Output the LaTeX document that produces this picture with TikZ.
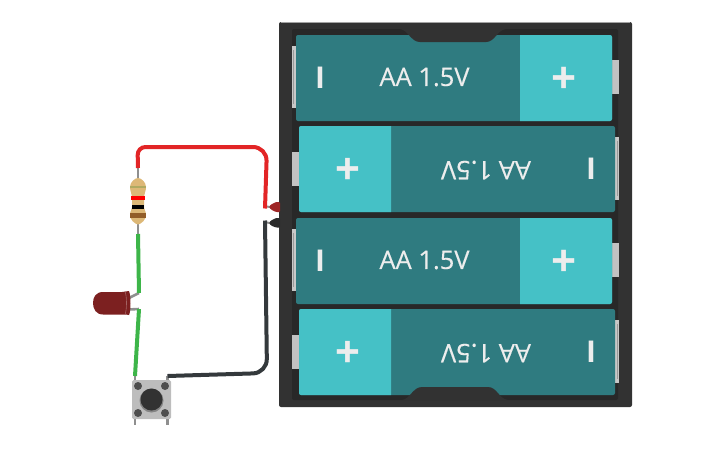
\documentclass[tikz,border=0pt]{standalone}
\usepackage{fontspec}
\setmainfont{Open Sans}
\newfontfamily\labelfont[FakeBold=0.3]{Open Sans}
\definecolor{holdergray}{HTML}{323232}
\definecolor{innergray}{HTML}{282828}
\definecolor{cellteal}{HTML}{2F7B80}
\definecolor{capteal}{HTML}{45C1C6}
\definecolor{marktext}{HTML}{EDEDED}
\definecolor{tabgray}{HTML}{C2C2C2}
\definecolor{leadgray}{HTML}{8F8F8F}
\definecolor{wirered}{HTML}{E22526}
\definecolor{wiregreen}{HTML}{3DB549}
\definecolor{wireblack}{HTML}{34393C}
\definecolor{resbody}{HTML}{DDB877}
\definecolor{ledred}{HTML}{7C2020}
\definecolor{swbody}{HTML}{BDBDBD}
\begin{document}
\begin{tikzpicture}
   [
    x=1pt, y=-1pt,
    cell/.style={rectangle, rounded corners=2pt, fill=cellteal,
                 minimum width=316pt, minimum height=86pt, inner sep=0pt},
    celltext/.style={rectangle, text=marktext, inner sep=0pt,
                 font=\labelfont\fontsize{25.5}{25.5}\selectfont},
    capmark/.style={rectangle, text=marktext, inner sep=0pt,
                    font=\fontsize{44}{44}\selectfont\bfseries},
    barmark/.style={rectangle, text=marktext, inner sep=0pt,
                    font=\fontsize{30}{30}\selectfont\bfseries},
    tab/.style={fill=tabgray},
    spring/.style={fill=tabgray!90!white},
    springline/.style={draw=gray!80!white, line width=1pt},
    wire/.style={line width=4pt},
    lead/.style={draw=leadgray, line width=2.6pt},
    pinhole/.style={circle, fill=holdergray!80!swbody, minimum size=8pt, inner sep=0pt}
    ]
\useasboundingbox (0,0) rectangle (725,453);

%holder
\node[rectangle, rounded corners=2pt, fill=holdergray, minimum width=353pt,
      minimum height=385pt, inner sep=0pt] (holder) at (455.5,214.5) {};
\draw[holdergray!45!white, line width=.7pt] (281,22.4) -- (630,22.4);
\fill[innergray, rounded corners=2pt] (292,29) rectangle (618,400);

% tabs and springs
\fill[spring] (292,46) rectangle (296,108);
\draw[springline] (293.5,50) -- (293.5,104);
\fill[tab] (612,60) rectangle (619,94);
\fill[tab] (292,152) rectangle (299,186);
\fill[spring] (615,137) rectangle (619,200);
\draw[springline] (617.5,141) -- (617.5,196);
\fill[spring] (292,229) rectangle (296,291);
\draw[springline] (293.5,233) -- (293.5,287);
\fill[tab] (612,243) rectangle (619,277);
\fill[tab] (292,335) rectangle (299,369);
\fill[spring] (615,320) rectangle (619,383);
\draw[springline] (617.5,324) -- (617.5,379);

%battery 1
\node[cell] (batt1) at (454,78) {};
\node[celltext] (label1) at (424.5,77) {AA 1.5V};
\fill[capteal] (520,35) [rounded corners=2pt] -- (612,35) -- (612,121) [sharp corners] -- (520,121) -- cycle;
\node[capmark] (plus1) at (564,80) {+};
\node[barmark] (minus1) at (320,78) {I};
%battery 2
\node[cell] (batt2) at (457,169) {};
\node[celltext, rotate=180] (label2) at (486,170) {AA 1.5V};
\fill[capteal] (391,126) [sharp corners] -- (391,212) [rounded corners=2pt] -- (299,212) -- (299,126) [sharp corners] -- cycle;
\node[capmark, rotate=180] (plus2) at (348,167) {+};
\node[barmark] (minus2) at (591,169) {I};
%battery 3
\node[cell] (batt3) at (454,261) {};
\node[celltext] (label3) at (424.5,260) {AA 1.5V};
\fill[capteal] (520,218) [rounded corners=2pt] -- (612,218) -- (612,304) [sharp corners] -- (520,304) -- cycle;
\node[capmark] (plus3) at (564,263) {+};
\node[barmark] (minus3) at (320,261) {I};
%battery 4
\node[cell] (batt4) at (457,352) {};
\node[celltext, rotate=180] (label4) at (486,353) {AA 1.5V};
\fill[capteal] (391,309) [sharp corners] -- (391,395) [rounded corners=2pt] -- (299,395) -- (299,309) [sharp corners] -- cycle;
\node[capmark, rotate=180] (plus4) at (348,350) {+};
\node[barmark] (minus4) at (591,352) {I};

% notches
\fill[holdergray] (400,29) .. controls (408,30) and (411,42) .. (420,42) -- (486,42)
                  .. controls (495,42) and (497,30) .. (506,29) -- cycle;
\fill[holdergray] (402,400) .. controls (410,399) and (413,387) .. (422,387) -- (488,387)
                  .. controls (497,387) and (499,399) .. (508,400) -- cycle;

% snap leads
\coordinate (battP) at (265,206.5);
\coordinate (battN) at (265,222.5);
\draw[lead, line width=2pt] (battP) -- (272,207);
\draw[lead, line width=2pt] (battN) -- (272,223);
\fill[red!55!black!85!white, rounded corners=1pt] (280,202) -- (276,202) -- (271,204.5) -- (269,207) -- (271,209.5) -- (276,212) -- (280,212) -- cycle;
\fill[holdergray!85!black, rounded corners=1pt] (280,218) -- (276,218) -- (271,220.5) -- (269,223) -- (271,225.5) -- (276,227.5) -- (280,227.5) -- cycle;

% resistor
\coordinate (resT) at (138,168);
\coordinate (resB) at (138,234);
\draw[lead] (resT) -- (resB);
\node[rectangle, minimum width=16pt, minimum height=46pt, inner sep=0pt] (res) at (138,201) {};
\fill[resbody] (138,178) .. controls (141,178) and (146,182) .. (146,187)
      .. controls (146,192) and (144,193) .. (144,197) -- (144,206)
      .. controls (144,210) and (146,211) .. (146,215)
      .. controls (146,220) and (141,224) .. (138,224.5)
      .. controls (135,224) and (130,220) .. (130,215)
      .. controls (130,211) and (132,210) .. (132,206) -- (132,197)
      .. controls (132,193) and (130,192) .. (130,187)
      .. controls (130,182) and (135,178) .. (138,178) -- cycle;
\fill[yellow!55!black!80] (130,186) rectangle (146,187.5);
\fill[red] (131,196) rectangle (145,200);
\fill[black] (132,204.5) rectangle (144,209);
\fill[brown!70!black!90!orange] (130,213) rectangle (146,217.5);

% led
\coordinate (ledA) at (139,293);
\coordinate (ledK) at (139,309);
\draw[lead] (ledA) -- (129,298);
\draw[lead] (ledK) -- (128,309.5);
\node[rectangle, minimum width=36pt, minimum height=24pt, inner sep=0pt] (led) at (111,303) {};
\fill[ledred] (129,291) .. controls (131,295) and (131,312) .. (129,315) -- (126,314.5) -- (103,314.5)
      .. controls (96,314.5) and (93,309) .. (93,303) .. controls (93,297) and (96,292) .. (103,292)
      -- (122,292) -- cycle;
\draw[ledred!70!white, line width=.6pt] (125,291.5) .. controls (127,296) and (127,310) .. (125,314.5);

% pushbutton
\coordinate (swTL) at (135,376);
\coordinate (swTR) at (167.5,376);
\coordinate (swBL) at (135,425);
\coordinate (swBR) at (167.5,425);
\draw[lead] (swTL) -- (swBL);
\draw[lead] (swTR) -- (swBR);
\node[rectangle, rounded corners=1.5pt, fill=swbody, minimum width=39pt, minimum height=39pt, inner sep=0pt] (sw) at (151.5,399.5) {};
\node[pinhole] (pin1) at (138,386) {};
\node[pinhole] (pin2) at (165,386) {};
\node[pinhole] (pin3) at (138,413) {};
\node[pinhole] (pin4) at (165,413) {};
\node[circle, fill=swbody!70!black, minimum size=24pt, inner sep=0pt] (capshadow) at (151.5,400.5) {};
\node[circle, fill=holdergray, minimum size=22pt, inner sep=0pt] (swcap) at (151.5,399.5) {};

% wires
\draw[wire, wirered] (resT) [rounded corners=8pt] -- (137.5,147) [rounded corners=14pt] -- (267,147) [sharp corners] -- ([yshift=-2pt]battP);
\draw[wire, wiregreen] (resB) -- (ledA);
\draw[wire, wiregreen] (ledK) -- (swTL);
\draw[wire, wireblack, rounded corners=14pt] (swTR) -- (267,373) -- ([yshift=2pt]battN);
\end{tikzpicture}
\end{document}
